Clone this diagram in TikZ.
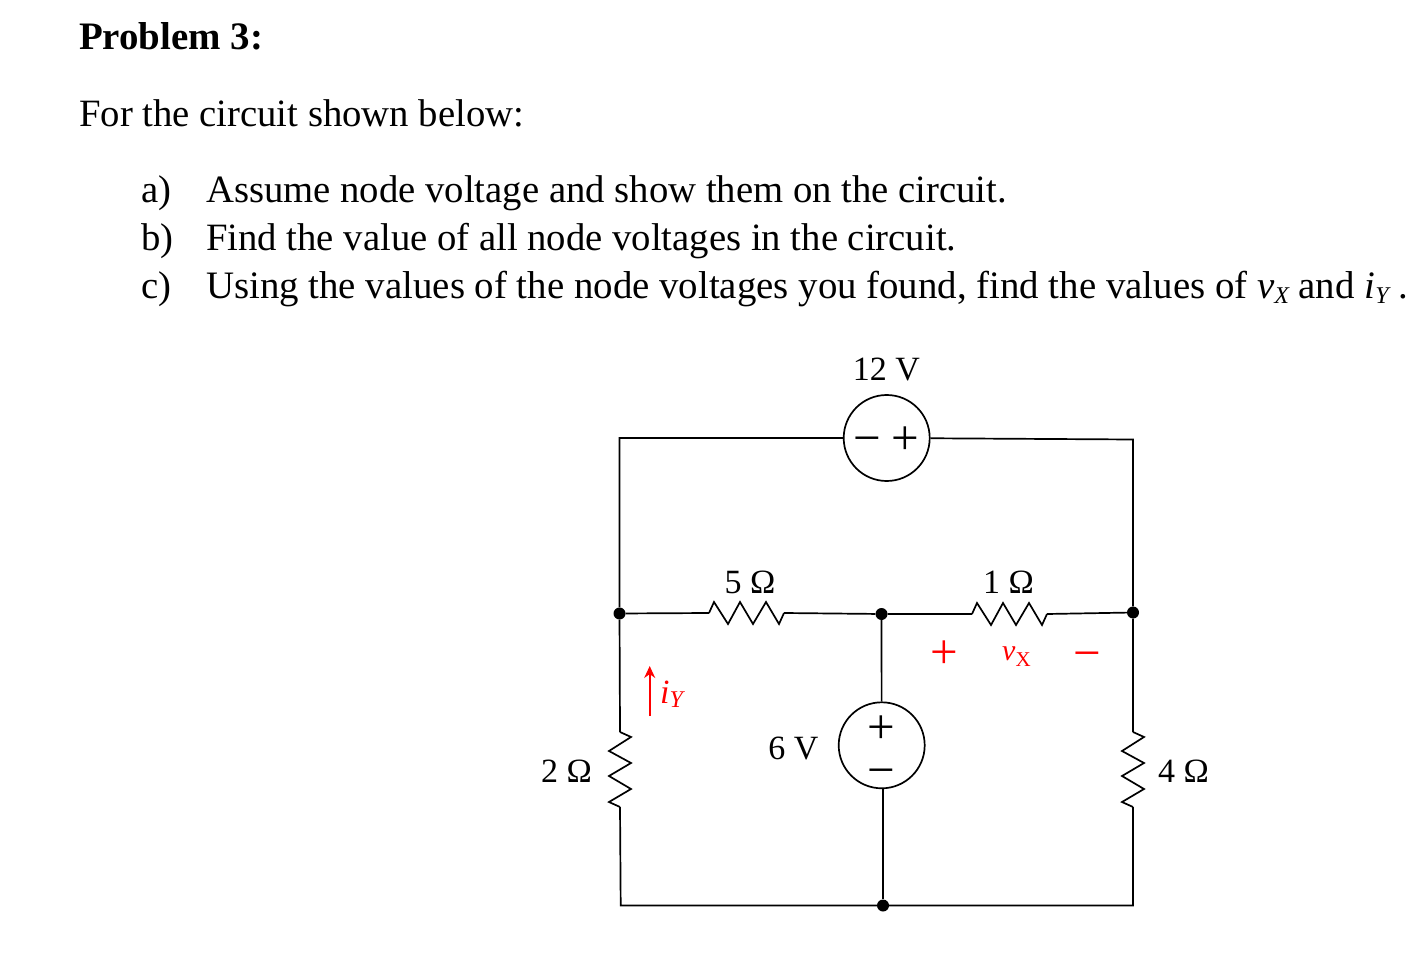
\documentclass[tikz,border=0pt]{standalone}
\usepackage{fontspec}
\setmainfont{Liberation Serif}
\usetikzlibrary{arrows.meta}
\newcommand{\subvar}[2]{\textit{#1\raisebox{-0.13em}{\fontsize{24}{24}\selectfont #2}}}
\tikzset{
  wire/.style={line width=1.7pt,line join=miter},
  txt/.style={anchor=base west,inner sep=0pt,font=\fontsize{38.7}{40}\selectfont},
  val/.style={inner sep=0pt,font=\fontsize{34}{36}\selectfont},
  dot/.style={circle,fill=black,inner sep=0pt,minimum size=12pt},
  src/.style={circle,draw,line width=1.7pt,inner sep=0pt,minimum size=86pt},
  sign/.style={anchor=base,inner sep=0pt,font=\fontsize{49}{49}\selectfont},
  pics/resistor/.style={code={
    \coordinate (-a) at (0,0);
    \coordinate (-b) at (75,0);
    \draw[wire] (-a) -- (5,-11) -- (19,11) -- (31,-11) -- (44,11) -- (57,-11) -- (70,11) -- (-b);
  }}
}
\begin{document}
\begin{tikzpicture}[x=1pt,y=-1pt]
\useasboundingbox (0,0) rectangle (1424,965);
% problem text
\node[txt,font=\fontsize{38.9}{40}\selectfont\bfseries] (title) at (79,50) {Problem 3:};
\node[txt] (intro) at (79,126.5) {For the circuit shown below:};
\node[txt] (la) at (141,203) {a)};
\node[txt] (ta) at (206,203) {Assume node voltage and show them on the circuit.};
\node[txt] (lb) at (141,251) {b)};
\node[txt] (tb) at (206,251) {Find the value of all node voltages in the circuit.};
\node[txt] (lc) at (141,298.5) {c)};
\node[txt,font=\fontsize{38.85}{40}\selectfont] (tc) at (206,298.5) {Using the values of the node voltages you found, find the values of \subvar{v}{X} and \subvar{i}{Y} .};
% nodes
\node[dot] (nl) at (619.5,613.5) {};
\node[dot] (nm) at (881.5,614) {};
\node[dot] (nr) at (1133,612.5) {};
\node[dot] (nb) at (883,905.5) {};
\coordinate (tl) at (619.5,438);
\coordinate (tr) at (1133,439.5);
\coordinate (bl) at (620.7,905.5);
\coordinate (br) at (1133,905.5);
\node[src] (v12) at (886.7,438) {};
\node[src] (v6) at (881.7,745.3) {};
\pic (r5) at (709,613) {resistor};
\pic (r1) at (972,614) {resistor};
\pic[rotate=-90] (r2) at (620,732) {resistor};
\pic[rotate=-90] (r4) at (1133,732) {resistor};
% wires
\draw[wire] (r2-a) -- (nl) -- (tl) -- (v12);
\draw[wire] (v12) -- (tr) -- (nr) -- (r4-a);
\draw[wire] (nl) -- (r5-a);
\draw[wire] (r5-b) -- (nm) -- (r1-a);
\draw[wire] (r1-b) -- (nr);
\draw[wire] (nm) -- (v6);
\draw[wire] (v6.south -| nb) -- (nb);
\draw[wire] (r2-b) -- (bl) -- (nb) -- (br) -- (r4-b);
% source signs
\node[sign] (m12) at (867.5,454.5) {−};
\node[sign] (p12) at (905,454.5) {+};
\node[sign] (p6) at (881,743) {+};
\node[sign] (m6) at (881,786.3) {−};
% values
\node[val] (l12) at (886.5,370) {12 V};
\node[val] (l5) at (750,582) {5 Ω};
\node[val] (l1) at (1008.5,582) {1 Ω};
\node[val] (l6) at (793.5,748) {6 V};
\node[val] (l2) at (566.5,771) {2 Ω};
\node[val] (l4) at (1183.5,771) {4 Ω};
% red marks
\coordinate (ia) at (649.7,716);
\coordinate (ib) at (649.7,666);
\draw[wire,red,-{Stealth[length=12pt,width=11pt]}] (ia) -- (ib);
\node[val,red,anchor=base west] (iy) at (660,703) {\subvar{i}{Y}};
\node[val,red,anchor=base west,font=\fontsize{30}{30}\selectfont] (vx) at (1002,660) {\textit{v}\raisebox{-6pt}{\fontsize{21}{21}\selectfont X}};
\node[sign,red] (px) at (944,668.7) {+};
\node[sign,red] (mx) at (1087,669.3) {−};
\end{tikzpicture}
\end{document}
